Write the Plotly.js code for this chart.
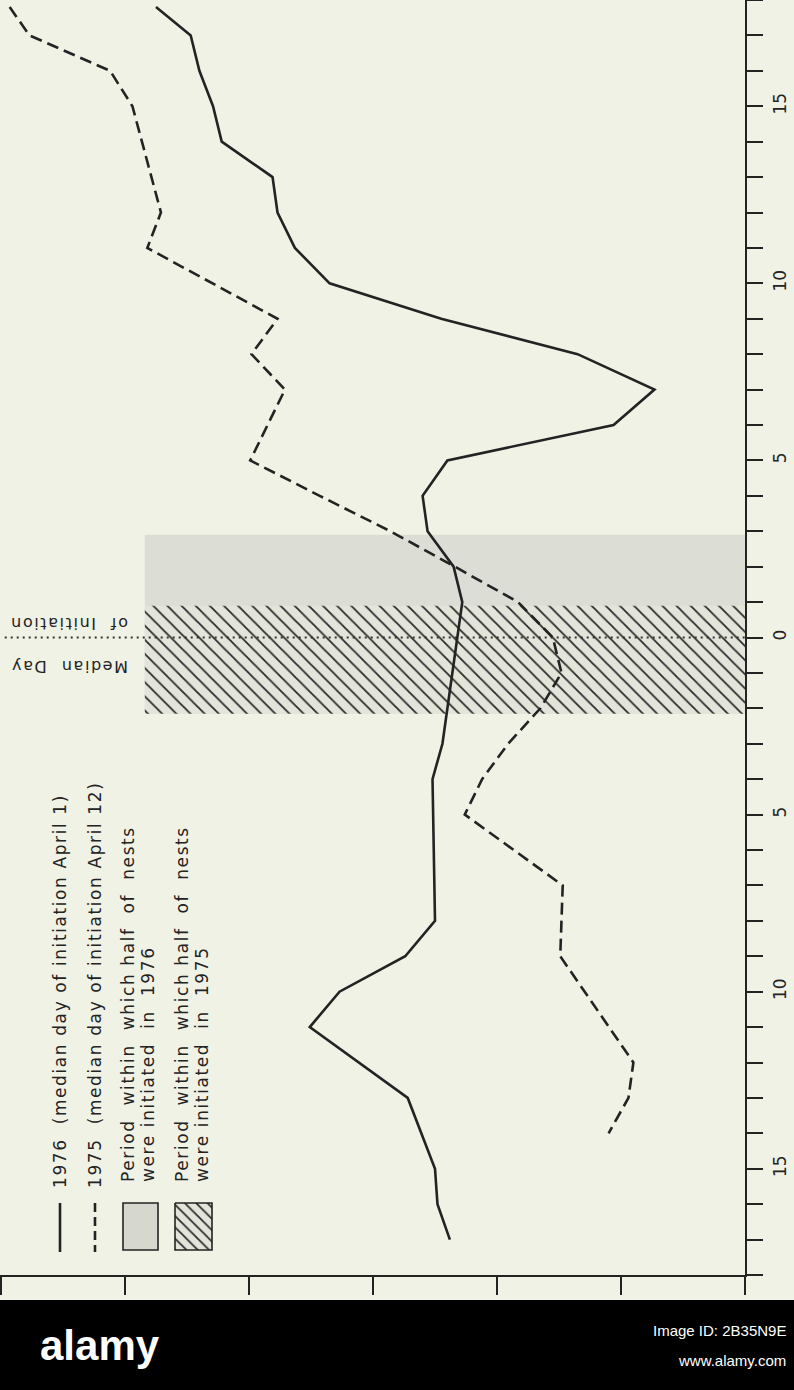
<!DOCTYPE html>
<html>
<head>
<meta charset="utf-8">
<script src="https://cdn.plot.ly/plotly-3.0.1.min.js"></script>
<style>
html,body{margin:0;padding:0;background:#f1f2e6;}
#chart{width:794px;height:1390px;}
.annotation-text{letter-spacing:1.6px;}
</style>
</head>
<body>
<div id="chart"></div>
<script>
// ---- data (days relative to median day of initiation) ----
const days1976 = [17.8, 17, 16, 15, 14, 13, 12, 11, 10, 9, 8, 7, 6, 5, 4, 3, 2, 1, 0, -1, -2, -3, -4, -8, -9, -10, -11, -13, -15, -16, -17];
const vals1976 = [4.75, 4.47, 4.40, 4.29, 4.22, 3.81, 3.77, 3.63, 3.35, 2.45, 1.35, 0.73, 1.06, 2.40, 2.60, 2.56, 2.35, 2.28, 2.32, 2.36, 2.40, 2.44, 2.52, 2.50, 2.74, 3.27, 3.51, 2.72, 2.50, 2.48, 2.38];

const days1975 = [17.8, 17, 16, 15, 12, 11, 9, 8, 7, 5, 4, 3, 2, 1, 0, -1, -2, -3, -4, -5, -7, -9, -12, -13, -14];
const vals1975 = [5.93, 5.77, 5.12, 4.94, 4.71, 4.82, 3.77, 3.98, 3.71, 3.99, 3.43, 2.86, 2.34, 1.83, 1.55, 1.48, 1.65, 1.91, 2.12, 2.26, 1.47, 1.49, 0.90, 0.94, 1.10];

// periods within which half of the nests were initiated (days)
const period1976 = [-2.15, 2.9];
const period1975 = [-2.15, 0.9];
const periodExtent = 4.84;   // value-axis extent of the shaded periods
const medianDay = 0;

// day-axis tick labels (absolute days from median)
const dayTickVals = [-15, -10, -5, 0, 5, 10, 15];
const dayTickText = ['15', '10', '5', '0', '5', '10', '15'];

const legendTexts = {
  l1976: '1976  (median day of initiation April 1)',
  l1975: '1975  (median day of initiation April 12)',
  p1976a: 'Period  within  which half  of  nests',
  p1976b: 'were initiated  in  1976',
  p1975a: 'Period  within  which half  of  nests',
  p1975b: 'were initiated  in  1975'
};

// ---- drawing ----
const INK = '#232323';
const BG = '#f1f2e6';
const FONT = 'DejaVu Sans, Liberation Sans, sans-serif';

// plot area geometry in pixels (for placing labels)
const PW = 745, PH = 1275;
const px = X => X / PW;
const py = Y => (PH - Y) / PH;

function band(p, extent) {
  return { x: [0, extent, extent, 0, 0], y: [p[0], p[0], p[1], p[1], p[0]] };
}

const b76 = band(period1976, periodExtent);
const b75 = band(period1975, periodExtent);

const traces = [
  { type: 'scatter', mode: 'lines', x: b76.x, y: b76.y, fill: 'toself',
    fillcolor: '#dcddd4', line: { width: 0 }, hoverinfo: 'skip', showlegend: false },
  { type: 'scatter', mode: 'lines', x: b75.x, y: b75.y, fill: 'toself',
    fillcolor: '#e4e5da', line: { width: 0 },
    fillpattern: { shape: '\\', size: 10, solidity: 0.18, fgcolor: '#2b2b2b', bgcolor: '#e4e5da', fillmode: 'replace' },
    hoverinfo: 'skip', showlegend: false },
  { type: 'scatter', mode: 'lines', x: [5.97, 0], y: [medianDay, medianDay],
    line: { color: '#333', width: 2, dash: '2px,4px' }, hoverinfo: 'skip', showlegend: false },
  { type: 'scatter', mode: 'lines', name: '1976', x: vals1976, y: days1976,
    line: { color: INK, width: 2.6 }, showlegend: false },
  { type: 'scatter', mode: 'lines', name: '1975', x: vals1975, y: days1975,
    line: { color: INK, width: 2.6, dash: '12px,6px' }, showlegend: false },
  // legend key for hatched period (pixel overlay axes)
  { type: 'scatter', mode: 'lines', xaxis: 'x2', yaxis: 'y2',
    x: [175, 212, 212, 175, 175], y: [1203, 1203, 1250, 1250, 1203], fill: 'toself',
    fillcolor: '#e4e5da', line: { color: INK, width: 1.6 },
    fillpattern: { shape: '\\', size: 8, solidity: 0.22, fgcolor: '#2b2b2b', bgcolor: '#e4e5da', fillmode: 'replace' },
    hoverinfo: 'skip', showlegend: false }
];

const annotations = [];
function rotText(text, X, Ystart, size) {
  annotations.push({ xref: 'paper', yref: 'paper', x: px(X), y: py(Ystart), text: text,
    textangle: -90, xanchor: 'center', yanchor: 'bottom', showarrow: false,
    font: { family: FONT, size: size, color: INK } });
}
rotText(legendTexts.l1976, 60, 1190, 17);
rotText(legendTexts.l1975, 95, 1190, 17);
rotText(legendTexts.p1976a, 128, 1184, 17);
rotText(legendTexts.p1976b, 148, 1184, 17);
rotText(legendTexts.p1975a, 182, 1184, 17);
rotText(legendTexts.p1975b, 202, 1184, 17);

// median day label (upside down)
annotations.push({ xref: 'paper', yref: 'paper', x: px(130), y: py(667), text: 'Median  Day',
  textangle: 180, xanchor: 'right', yanchor: 'middle', showarrow: false,
  font: { family: FONT, size: 16, color: INK } });
annotations.push({ xref: 'paper', yref: 'paper', x: px(130), y: py(624), text: 'of  Initiation',
  textangle: 180, xanchor: 'right', yanchor: 'middle', showarrow: false,
  font: { family: FONT, size: 16, color: INK } });

// footer
const plain = t => '<span style="letter-spacing:0px">' + t + '</span>';
annotations.push({ xref: 'paper', yref: 'paper', x: px(100), y: py(1345), text: '<b>' + plain('alamy') + '</b>',
  xanchor: 'center', yanchor: 'middle', showarrow: false,
  font: { family: 'Liberation Sans, Arial, sans-serif', size: 42, color: '#ffffff' } });
annotations.push({ xref: 'paper', yref: 'paper', x: px(788), y: py(1330), text: plain('Image ID: 2B35N9E'),
  xanchor: 'right', yanchor: 'middle', showarrow: false,
  font: { family: 'Liberation Sans, Arial, sans-serif', size: 15, color: '#ffffff' } });
annotations.push({ xref: 'paper', yref: 'paper', x: px(788), y: py(1360), text: plain('www.alamy.com'),
  xanchor: 'right', yanchor: 'middle', showarrow: false,
  font: { family: 'Liberation Sans, Arial, sans-serif', size: 15, color: '#ffffff' } });

const shapes = [
  // legend keys
  { type: 'line', xref: 'paper', yref: 'paper', x0: px(60), x1: px(60), y0: py(1203), y1: py(1252),
    line: { color: INK, width: 2.6 } },
  { type: 'line', xref: 'paper', yref: 'paper', x0: px(95), x1: px(95), y0: py(1203), y1: py(1252),
    line: { color: INK, width: 2.6, dash: '9px,5px' } },
  { type: 'rect', xref: 'paper', yref: 'paper', x0: px(123), x1: px(158), y0: py(1203), y1: py(1250),
    fillcolor: '#d6d7ce', line: { color: INK, width: 1.6 } },
  // black footer bar
  { type: 'rect', xref: 'paper', yref: 'paper', x0: -0.02, x1: 1.08, y0: py(1392), y1: py(1300),
    fillcolor: '#000000', line: { width: 0 }, layer: 'above' }
];

const layout = {
  width: 794, height: 1390,
  margin: { l: 0, r: 49, t: 0, b: 115, pad: 0 },
  paper_bgcolor: BG, plot_bgcolor: BG,
  showlegend: false,
  xaxis: { range: [6.008, 0], showgrid: false, zeroline: false, showline: true,
    linecolor: INK, linewidth: 2.4, ticks: 'outside', ticklen: 18, tickwidth: 2,
    tickcolor: INK, tickmode: 'linear', tick0: 0, dtick: 1, showticklabels: false, fixedrange: true },
  yaxis: { side: 'right', range: [-18, 18], showgrid: false, zeroline: false, showline: true,
    linecolor: INK, linewidth: 2.4, ticks: 'outside', ticklen: 16, tickwidth: 2, tickcolor: INK,
    tickmode: 'array', tickvals: dayTickVals, ticktext: dayTickText, tickangle: -90,
    tickfont: { family: FONT, size: 17, color: INK }, ticklabelstandoff: 2,
    minor: { tickmode: 'linear', tick0: 0, dtick: 1, ticks: 'outside', ticklen: 16, tickwidth: 2, tickcolor: INK },
    fixedrange: true },
  xaxis2: { overlaying: 'x', range: [0, 745], visible: false, fixedrange: true },
  yaxis2: { overlaying: 'y', range: [1275, 0], visible: false, fixedrange: true },
  annotations: annotations,
  shapes: shapes
};

Plotly.newPlot('chart', traces, layout, { staticPlot: true, displayModeBar: false });
</script>
</body>
</html>
